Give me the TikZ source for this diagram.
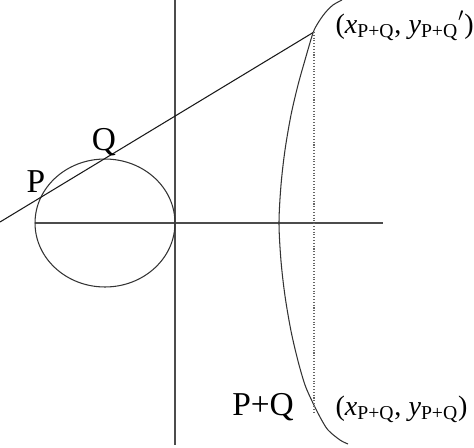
\documentclass[tikz,border=0pt]{standalone}
\usepackage{fontspec}
\setmainfont{Liberation Serif}
\usetikzlibrary{positioning,calc}

\begin{document}
\begin{tikzpicture}[x=0.02cm, y=-0.02cm, semithick]
	\tikzstyle{axis}=[draw=black!70, line width=0.6pt]
	\tikzstyle{curve}=[draw=black!80, line width=0.6pt]
	\tikzstyle{chord}=[draw=black!90, line width=0.6pt]
	\tikzstyle{mirror}=[draw=black!60, densely dotted, line width=0.6pt]
	\tikzstyle{ptlabel}=[inner sep=0pt, anchor=base, font=\fontsize{19}{22}\selectfont]
	\tikzstyle{xylabel}=[inner sep=0pt, anchor=base west, font=\fontsize{16}{19}\selectfont]
	\useasboundingbox (0,0) rectangle (474,447);
	% axes
	\coordinate (xL) at (35,223);
	\coordinate (xR) at (383,223);
	\coordinate (yT) at (175,0);
	\coordinate (yB) at (175,445);
	\coordinate (C) at (105,223);
	% points
	\coordinate (S) at (0,222);
	\coordinate (R) at (314,32);
	\coordinate (Rm) at (314,414);
	\draw[axis] (xL) -- (xR);
	\draw[axis] (yT) -- (yB);
	% curve: oval and right branch
	\draw[curve] (C) ellipse [x radius=1.4cm, y radius=1.28cm];
	\draw[curve] plot[smooth] coordinates {(342,0) (333,5) (325,13) (318,23) (313,33)
		(305,60) (298,85) (291,115) (285,150) (281,185) (279,223) (281,261) (285,296)
		(291,331) (298,361) (305,385) (312,401) (320,417) (328,430) (340,440) (348,444)};
	\draw[chord] (S) -- (R);
	\draw[mirror] (R) -- (Rm);
	% labels
	\node[ptlabel] (labP) at (36,192) {P};
	\node[ptlabel] (labQ) at (104,150) {Q};
	\node[ptlabel] (labPQ) at (263,415) {P+Q};
	\node[xylabel] (labR) at (335,33) {(\textit{x}\textsubscript{P+Q}, \textit{y}\textsubscript{P+Q}${}'$)};
	\node[xylabel] (labRm) at (335,415) {(\textit{x}\textsubscript{P+Q}, \textit{y}\textsubscript{P+Q})};
\end{tikzpicture}
\end{document}
